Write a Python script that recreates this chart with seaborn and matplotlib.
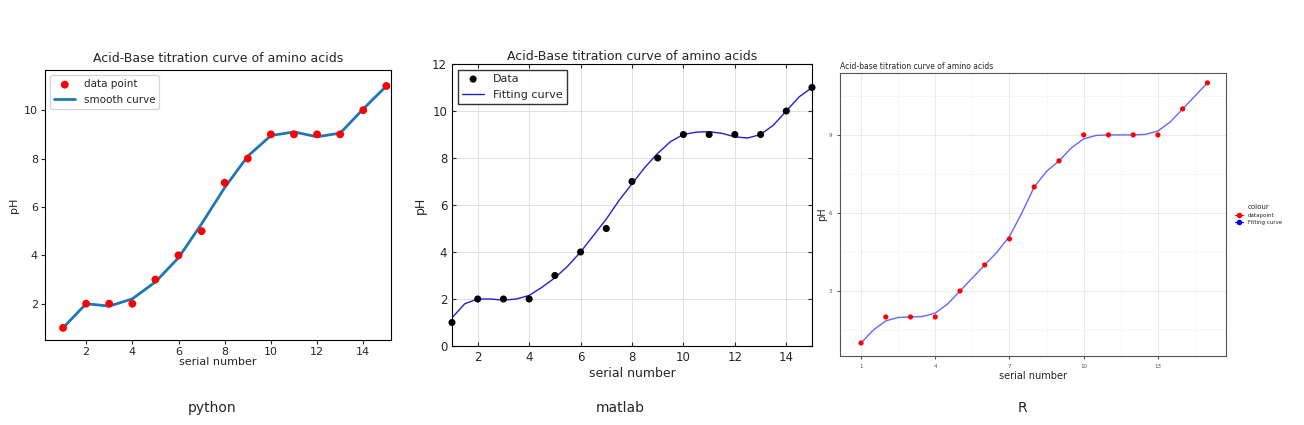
import matplotlib
matplotlib.use("Agg")
import matplotlib.pyplot as plt
import seaborn as sns
import numpy as np
from matplotlib.lines import Line2D

serial = [1, 2, 3, 4, 5, 6, 7, 8, 9, 10, 11, 12, 13, 14, 15]
ph = [1, 2, 2, 2, 3, 4, 5, 7, 8, 9, 9, 9, 9, 10, 11]
py_curve = [1, 2.0, 1.9, 2.2, 2.9, 3.9, 5.3, 6.8, 8.1, 8.95, 9.1, 8.9, 9.05, 10.05, 11]
fit_x = [1, 1.5, 2, 2.5, 3, 3.5, 4, 4.5, 5, 5.5, 6, 6.5, 7, 7.5, 8, 8.5, 9, 9.5, 10,
         10.5, 11, 11.5, 12, 12.5, 13, 13.5, 14, 14.5, 15]
matlab_curve = [1.2, 1.8, 2.0, 2.0, 1.95, 2.0, 2.15, 2.5, 2.9, 3.4, 4.0, 4.7, 5.4, 6.2, 6.9,
                7.6, 8.2, 8.7, 9.0, 9.1, 9.12, 9.05, 8.9, 8.85, 9.0, 9.4, 10.0, 10.6, 11.0]
r_curve = [1, 1.5, 1.85, 1.98, 2.0, 2.02, 2.15, 2.5, 3.0, 3.5, 4.0, 4.5, 5.1, 6.0, 7.0,
           7.6, 8.0, 8.5, 8.85, 8.98, 9.0, 9.0, 9.0, 9.02, 9.15, 9.5, 10.0, 10.5, 11.0]

sns.set_style("white")
plt.rcParams['font.family'] = ['DejaVu Sans']
W, H = 1304, 425
fig = plt.figure(figsize=(W / 100, H / 100), dpi=100)

def box(l, t, r, b):
    return [l / W, 1 - b / H, (r - l) / W, (b - t) / H]

# Python panel
ax1 = fig.add_axes(box(45, 70, 391, 340))
sns.scatterplot(x=serial, y=ph, ax=ax1, color="red", s=32, edgecolor="none", label="data point", zorder=3)
sns.lineplot(x=serial, y=py_curve, ax=ax1, color="#1f77b4", linewidth=2, label="smooth curve")
ax1.set_xlim(0.22, 15.2); ax1.set_ylim(0.5, 11.66)
ax1.set_xticks([2, 4, 6, 8, 10, 12, 14]); ax1.set_yticks([2, 4, 6, 8, 10])
ax1.tick_params(labelsize=8, length=3, pad=2, direction="out", bottom=True, left=True)
ax1.set_title("Acid-Base titration curve of amino acids", fontsize=9)
ax1.set_xlabel("serial number", fontsize=8, labelpad=0); ax1.set_ylabel("pH", fontsize=8)
ax1.legend(loc="upper left", fontsize=7.5, frameon=True)
for s in ax1.spines.values(): s.set_color("black"); s.set_linewidth(0.8)

# Matlab panel
ax2 = fig.add_axes(box(452, 64, 812, 346))
sns.scatterplot(x=serial, y=ph, ax=ax2, color="black", s=26, edgecolor="none", label="Data",
                zorder=3, clip_on=False)
sns.lineplot(x=fit_x, y=matlab_curve, ax=ax2, color="#2020d0", linewidth=1, label="Fitting curve")
ax2.set_xlim(1, 15); ax2.set_ylim(0, 12)
ax2.set_xticks([2, 4, 6, 8, 10, 12, 14]); ax2.set_yticks(range(0, 13, 2))
ax2.grid(True, color="#e0e0e0", linewidth=0.7)
ax2.tick_params(labelsize=8.5, direction="in", length=3, bottom=True, left=True, top=True, right=True)
ax2.set_title("Acid-Base titration curve of amino acids", fontsize=9, pad=3)
ax2.set_xlabel("serial number", fontsize=9, labelpad=2); ax2.set_ylabel("pH", fontsize=9)
ax2.legend(loc="upper left", fontsize=8, frameon=True, fancybox=False, edgecolor="black")
for s in ax2.spines.values(): s.set_color("black"); s.set_linewidth(0.8)

# R panel
ax3 = fig.add_axes(box(840, 73, 1226, 356))
ax3.set_xlim(0.15, 15.75); ax3.set_ylim(0.5, 11.38)
ax3.set_xticks([1, 4, 7, 10, 13]); ax3.set_yticks([3, 6, 9])
ax3.set_xticks([2.5, 5.5, 8.5, 11.5, 14.5], minor=True); ax3.set_yticks([1.5, 4.5, 7.5, 10.5], minor=True)
ax3.grid(True, which="major", color="#ebebeb", linewidth=0.7)
ax3.grid(True, which="minor", color="#f4f4f4", linewidth=0.5)
sns.lineplot(x=fit_x, y=r_curve, ax=ax3, color="#6666ff", linewidth=1, label="Fitting curve", zorder=2)
sns.scatterplot(x=serial, y=ph, ax=ax3, color="red", s=14, edgecolor="none", label="datapoint", zorder=3)
ax3.tick_params(labelsize=4, length=2, color="#555555", labelcolor="#555555", which="major", bottom=True, left=True)
ax3.tick_params(which="minor", length=0)
ax3.set_title("Acid-base titration curve of amino acids", fontsize=5.5, loc="left", pad=3)
ax3.set_xlabel("serial number", fontsize=7, labelpad=2); ax3.set_ylabel("pH", fontsize=7, labelpad=1)
hh = [Line2D([], [], color="red", marker="o", markersize=3, linewidth=0.8),
      Line2D([], [], color="blue", marker="o", markersize=3, linewidth=0.8)]
ax3.legend(hh, ["datapoint", "Fitting curve"], title="colour", fontsize=4, title_fontsize=5,
           loc="center left", bbox_to_anchor=(1.01, 0.5), frameon=False, handlelength=1.5)
for s in ax3.spines.values(): s.set_color("#555555"); s.set_linewidth(0.8)

fig.text(212 / W, 1 - 408 / H, "python", ha="center", va="center", fontsize=10)
fig.text(620 / W, 1 - 408 / H, "matlab", ha="center", va="center", fontsize=10)
fig.text(1022 / W, 1 - 408 / H, "R", ha="center", va="center", fontsize=10)

fig.savefig("out.png", dpi=100, facecolor="white")
